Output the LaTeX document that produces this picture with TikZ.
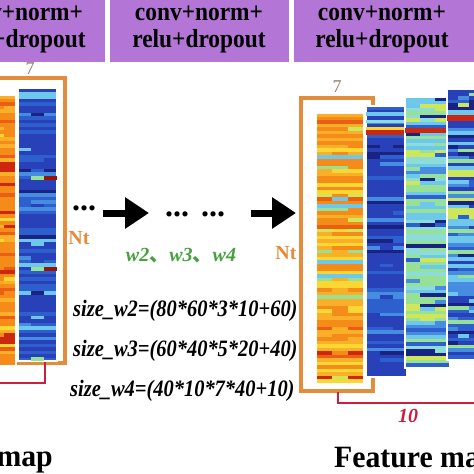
\documentclass[tikz,border=0pt]{standalone}
\usepackage{fontspec}
\setmainfont{Liberation Serif}
\newfontfamily\cjk{Noto Sans CJK SC}
\newfontfamily\hdrfont[FakeStretch=0.9]{Liberation Serif}
\newfontfamily\frmfont[FakeStretch=0.87]{Liberation Serif}
\newfontfamily\btmfont[FakeStretch=0.96]{Liberation Serif}
\usetikzlibrary{arrows.meta}
\definecolor{hdr}{RGB}{180,118,214}
\definecolor{frameor}{RGB}{226,140,60}
\definecolor{sevenc}{RGB}{150,118,105}
\definecolor{greenw}{RGB}{70,160,60}
\definecolor{redl}{RGB}{200,32,62}
\definecolor{jdb}{RGB}{25,35,130}
\definecolor{jb}{RGB}{40,65,185}
\definecolor{jmb}{RGB}{45,95,205}
\definecolor{jlb}{RGB}{70,140,225}
\definecolor{jc}{RGB}{110,200,235}
\definecolor{jlc}{RGB}{140,220,215}
\definecolor{jlg}{RGB}{150,225,150}
\definecolor{jyg}{RGB}{205,230,90}
\definecolor{jy}{RGB}{250,215,50}
\definecolor{jlo}{RGB}{250,175,40}
\definecolor{jo}{RGB}{245,140,25}
\definecolor{jro}{RGB}{235,95,20}
\definecolor{jr}{RGB}{205,40,15}
\definecolor{jdr}{RGB}{150,20,10}
\pgfmathdeclarerandomlist{Lor}{{jo}{jo}{jo}{jlo}{jlo}{jy}{jro}{jr}{jo}{jlo}{jro}{jo}{jo}{jo}}
\pgfmathdeclarerandomlist{Lbl}{{jb}{jb}{jb}{jmb}{jmb}{jlb}{jc}{jdb}{jb}{jmb}{jb}{jmb}{jb}{jb}}
\pgfmathdeclarerandomlist{Ror}{{jo}{jo}{jlo}{jlo}{jy}{jy}{jyg}{jro}{jo}{jlo}{jy}{jlg}{jc}{jr}{jo}{jlo}{jo}{jlo}}
\pgfmathdeclarerandomlist{Rbl}{{jb}{jb}{jb}{jb}{jmb}{jmb}{jdb}{jb}{jb}{jmb}{jlb}{jb}{jb}{jb}{jmb}{jb}}
\pgfmathdeclarerandomlist{Rcy}{{jc}{jc}{jlc}{jlg}{jlg}{jlb}{jmb}{jyg}{jc}{jlc}{jdb}{jlb}{jlg}}
\pgfmathdeclarerandomlist{Rmx}{{jb}{jmb}{jlb}{jc}{jlg}{jb}{jmb}{jlb}{jc}{jdb}{jyg}{jb}}
\newcommand\heatmap[6]{%
 \begin{scope}
 \pgfmathsetseed{#6}%
 \pgfmathsetmacro\hmw{(#3-#1)/3}%
 \pgfmathtruncatemacro\hmn{(#4-#2)/3.5}%
 \foreach \ii in {0,...,\hmn}{%
   \pgfmathsetmacro\yy{#2+\ii*3.5}%
   \pgfmathsetmacro\yz{min(\yy+3.6,#4)}%
   \pgfmathrandomitem{\ca}{#5}%
   \fill[\ca] (#1,\yy) rectangle (#3,\yz);
   \pgfmathrandominteger{\kk}{0}{7}%
   \ifnum\kk<3
     \pgfmathrandomitem{\cb}{#5}%
     \fill[\cb] ({#1+\kk*\hmw},\yy) rectangle ({#1+(\kk+1)*\hmw},\yz);
   \fi
 }
 \draw[white,line width=1.2pt] (#1,#2) rectangle (#3,#4);
 \end{scope}}
\tikzset{
 hdrbox/.style={fill=hdr},
 hdrtext/.style={anchor=base,inner sep=0pt,font=\hdrfont\bfseries\fontsize{26}{28}\selectfont},
 frame/.style={draw=frameor,line width=4pt},
 seven/.style={text=sevenc,font=\fontsize{18}{20}\selectfont,inner sep=0pt},
 ntlab/.style={text=frameor,font=\bfseries\fontsize{20}{22}\selectfont,inner sep=0pt},
 redline/.style={draw=redl,line width=2.5pt},
 formula/.style={anchor=base west,inner sep=0pt,font=\frmfont\bfseries\itshape\fontsize{23.5}{25}\selectfont},
 bigarrow/.style={line width=7pt,-{Triangle[length=24pt,width=30pt]}},
 dots/.style={font=\bfseries\fontsize{32}{34}\selectfont,inner sep=0pt,anchor=base},
 bottomtext/.style={inner sep=0pt,font=\btmfont\bfseries\fontsize{31}{33}\selectfont}
}
\begin{document}
\begin{tikzpicture}[x=1pt,y=-1pt]
\useasboundingbox (0,0) rectangle (474,474);
\clip (0,0) rectangle (474,474);
% header
\fill[hdrbox] (-75,0) rectangle (105,62);
\fill[hdrbox] (110,0) rectangle (289,62);
\fill[hdrbox] (294,0) rectangle (480,62);
\node[hdrtext] (h0a) at (19,20) {conv+norm+};
\node[hdrtext] (h0b) at (19,47) {relu+dropout};
\node[hdrtext] (h1a) at (199,20) {conv+norm+};
\node[hdrtext] (h1b) at (199,47) {relu+dropout};
\node[hdrtext] (h2a) at (382,20) {conv+norm+};
\node[hdrtext] (h2b) at (382,47) {relu+dropout};
% left feature map
\draw[frame] (-10,78) rectangle (65,363);
\heatmap{-20}{95}{16}{366}{Lor}{11}
\heatmap{18}{88}{57}{361}{Lbl}{12}
\fill[jlg] (31,176) rectangle (44,180);
\fill[jdr] (44,176) rectangle (57,180);
\fill[jlg] (31,267) rectangle (44,271);
\fill[jdr] (44,267) rectangle (57,271);
\fill[jlg] (31,357) rectangle (44,361);
\node[seven] (s1) at (30,69) {7};
\node[ntlab] (nt1) at (79,238) {Nt};
\coordinate (lr1) at (45,362);
\coordinate (lr2) at (45,383);
\coordinate (lr3) at (-5,383);
\draw[redline] (lr1) -- (lr2) -- (lr3);
% arrows and dots
\node[dots] (d1) at (84,210) {...};
\coordinate (a1s) at (103,213);
\coordinate (a1e) at (149,213);
\draw[bigarrow] (a1s) -- (a1e);
\node[dots] (d2) at (177,216) {...};
\node[dots] (d3) at (213,216) {...};
\coordinate (a2s) at (251,213);
\coordinate (a2e) at (296,213);
\draw[bigarrow] (a2s) -- (a2e);
\node[inner sep=0pt,text=greenw,font=\bfseries\itshape\fontsize{20}{22}\selectfont] (w) at (181,256) {w2{\cjk 、}w3{\cjk 、}w4};
\node[ntlab] (nt2) at (286,253) {Nt};
\node[formula] (f2) at (73,316) {size\_w2=(80*60*3*10+60)};
\node[formula] (f3) at (73,356) {size\_w3=(60*40*5*20+40)};
\node[formula] (f4) at (70,396) {size\_w4=(40*10*7*40+10)};
% right feature map
\draw[frame] (301,98) rectangle (373,391);
\heatmap{316}{113}{364}{384}{Ror}{21}
\heatmap{366}{106}{407}{377}{Rbl}{22}
\fill[jc] (366,112) rectangle (407,116);
\fill[jlc] (366,120) rectangle (407,123);
\fill[jy] (366,127) rectangle (407,130);
\fill[jr] (366,130) rectangle (407,135);
\heatmap{405}{97}{450}{368}{Rcy}{23}
\fill[jr] (405,128) rectangle (450,133);
\heatmap{447}{89}{480}{360}{Rmx}{24}
\fill[jr] (447,115) rectangle (480,121);
\node[seven] (s2) at (337,87) {7};
\coordinate (rr1) at (338,392);
\coordinate (rr2) at (338,403);
\coordinate (rr3) at (480,403);
\draw[redline] (rr1) -- (rr2) -- (rr3);
\node[inner sep=0pt,text=redl,font=\bfseries\itshape\fontsize{20}{22}\selectfont] (ten) at (408,416) {10};
% bottom labels
\node[bottomtext,anchor=base east] (fm1) at (53,466) {Feature map};
\node[bottomtext,anchor=base west] (fm2) at (334,467) {Feature map};
\end{tikzpicture}
\end{document}
